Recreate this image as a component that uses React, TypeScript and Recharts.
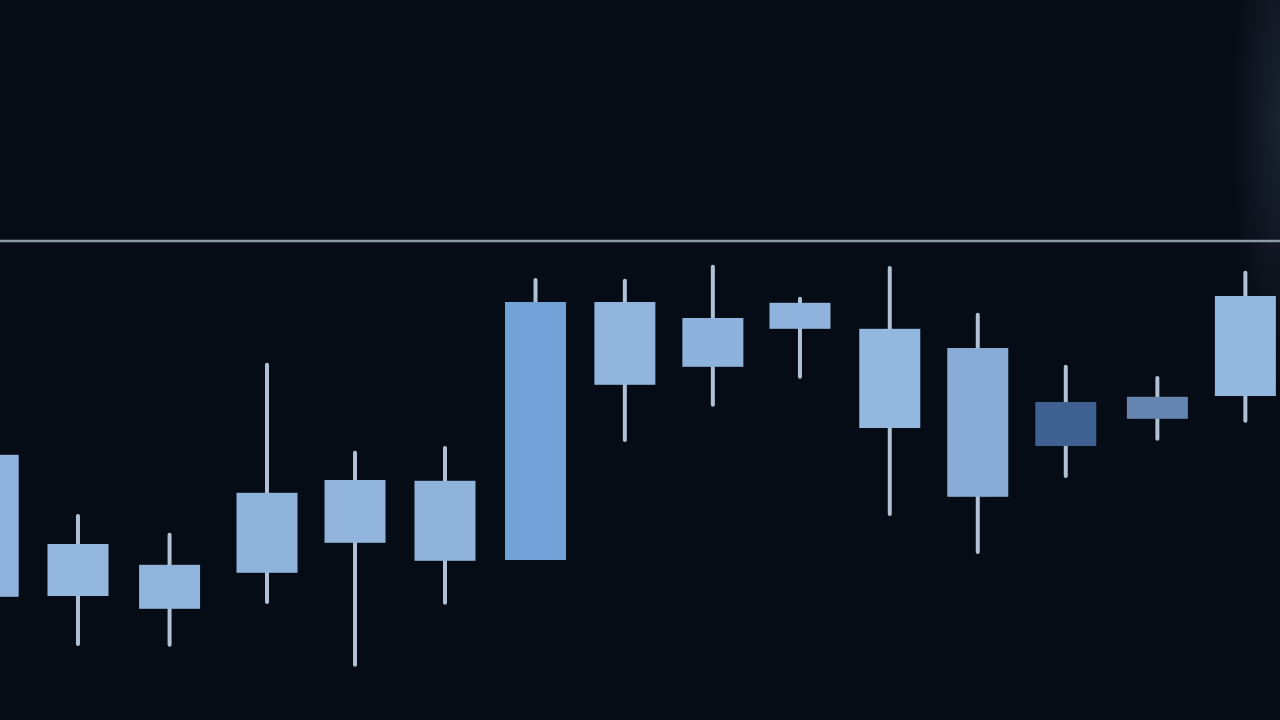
import React from "react";
import { ComposedChart, Bar, XAxis, YAxis, ReferenceLine } from "recharts";

// session time of each candle (sessions are slightly irregular)
const times = [0, 1.0, 2.02, 3.105, 4.085, 5.087, 6.095, 7.09, 8.07, 9.04, 10.04, 11.02, 12.0, 13.02, 14.0];
const opens = [30.8, 31, 27.8, 36.8, 44.3, 39.8, 40, 83.8, 88.3, 97.8, 97.8, 93, 79.5, 80.8, 81];
const closes = [66.3, 44, 38.8, 56.8, 60, 59.8, 104.5, 104.5, 100.5, 104.3, 73, 55.8, 68.5, 75.3, 106];
const highs = [70, 51.5, 46.8, 89.3, 67.3, 68.5, 110.5, 110.3, 113.8, 105.8, 113.5, 101.8, 88.8, 86, 112.3];
const lows = [27, 18.5, 18.3, 29, 13.3, 28.8, 40, 69.5, 78.3, 85.3, 51, 41.5, 60.5, 69.8, 74.3];
const resistance = 119.75;

const BODY_COLORS = [
  "#8fb3dc", "#92b6dd", "#90b4dc", "#8fb4dc", "#90b4dc", "#8fb3db", "#72a2d8", "#90b4dc",
  "#8db2db", "#8fb3dc", "#93b7de", "#88acd6", "#3f6192", "#6584b0", "#93b8e0",
];
const WICK = "#b0c1d4";

const data = times.map((t, i) => ({
  t,
  open: opens[i],
  close: closes[i],
  high: highs[i],
  low: lows[i],
}));

const Candle = (props: any) => {
  const { x, y, width, height, payload, index } = props;
  const top = Math.min(y, y + height);
  const h = Math.abs(height);
  const range = payload.high - payload.low;
  const k = range > 0 ? h / range : 0;
  const bodyTop = top + (payload.high - Math.max(payload.open, payload.close)) * k;
  const bodyBot = top + (payload.high - Math.min(payload.open, payload.close)) * k;
  const cx = x + width / 2;
  return (
    <g>
      <rect x={cx - 2} y={top} width={4} height={h} rx={2} fill={WICK} />
      <rect
        x={x}
        y={bodyTop}
        width={width}
        height={Math.max(bodyBot - bodyTop, 1)}
        fill={BODY_COLORS[index % BODY_COLORS.length]}
      />
    </g>
  );
};

export default function App() {
  return (
    <div
      style={{
        position: "fixed",
        top: 0,
        left: 0,
        width: 1280,
        height: 720,
        background:
          "radial-gradient(ellipse 50px 260px at 100% 120px, rgba(34,44,56,0.7) 0%, rgba(0,0,0,0) 100%), #060c16",
      }}
    >
      <ComposedChart width={1280} height={720} data={data} margin={{ top: 0, right: 0, bottom: 0, left: 0 }}>
        <XAxis dataKey="t" type="number" domain={[0.131, 14.385]} allowDataOverflow hide />
        <YAxis type="number" domain={[0, 180]} allowDataOverflow hide />
        <ReferenceLine y={resistance} stroke="#8e98a6" strokeWidth={2.5} />
        <Bar
          dataKey={(d: any) => [d.low, d.high]}
          barSize={61}
          shape={Candle}
          isAnimationActive={false}
        />
      </ComposedChart>
    </div>
  );
}
